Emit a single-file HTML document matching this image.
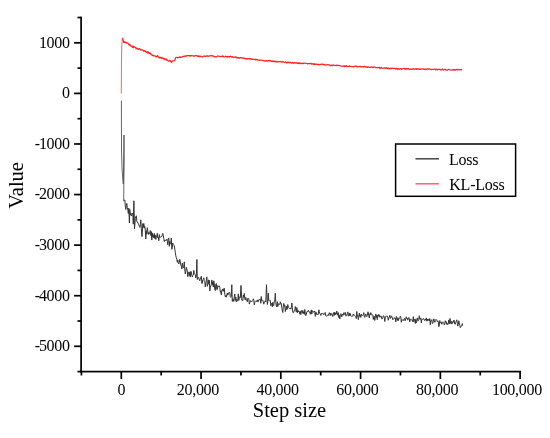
<!DOCTYPE html>
<html><head><meta charset="utf-8"><title>Loss chart</title>
<style>
html,body{margin:0;padding:0;background:#fff;width:550px;height:438px;overflow:hidden}
svg{display:block}
text{font-family:"Liberation Serif","Times New Roman",serif;fill:#000}
.tk{font-size:16px;letter-spacing:-0.3px}
.ax{font-size:20.5px}
.lg{font-size:16px;letter-spacing:-0.25px}
</style></head><body>
<svg width="550" height="438" viewBox="0 0 550 438">
<rect width="550" height="438" fill="#fff"/>
<path d="M121.40,100.50 L121.50,150.00 L122.00,168.00 L122.70,178.00 L123.30,184.00 L124.00,135.00 L124.20,160.00 L123.80,186.00 L123.70,201.00" fill="none" stroke="#555" stroke-width="0.9" stroke-linejoin="round"/>
<path d="M123.70,201.00 L124.80,199.93 L125.30,206.24 L125.80,209.51 L126.30,205.60 L126.80,203.38 L127.30,207.56 L127.80,209.83 L128.30,213.50 L128.80,208.14 L129.40,223.00 L129.80,209.45 L130.30,214.89 L130.80,213.46 L131.30,216.01 L131.80,214.90 L132.30,213.01 L132.80,213.93 L133.30,224.14 L133.90,200.80 L134.50,228.80 L134.50,228.80 L135.30,218.67 L135.80,216.83 L136.30,215.77 L136.80,220.96 L137.30,222.50 L137.80,222.38 L138.30,223.81 L138.80,224.84 L139.30,226.13 L139.80,227.38 L140.30,224.87 L140.80,219.82 L141.30,228.61 L142.00,236.70 L142.00,236.70 L142.80,223.63 L143.30,227.47 L143.80,223.46 L144.30,228.14 L144.80,226.41 L145.30,230.14 L145.80,238.95 L146.30,230.68 L146.80,234.09 L147.30,227.72 L147.80,231.21 L148.30,234.43 L148.80,232.41 L149.30,234.13 L149.80,233.60 L150.30,230.48 L150.80,235.62 L151.30,231.61 L151.80,240.06 L152.30,232.93 L152.80,236.79 L153.30,234.87 L153.80,237.98 L154.30,233.38 L154.80,238.50 L155.30,235.13 L155.80,239.43 L156.30,237.49 L156.80,236.03 L157.30,233.22 L157.80,238.02 L158.30,237.12 L158.80,240.76 L159.30,234.57 L159.80,237.47 L160.30,237.35 L160.80,236.76 L161.30,236.67 L161.80,236.73 L162.30,234.47 L162.80,233.33 L163.30,235.38 L163.80,238.56 L164.30,241.54 L164.80,240.08 L165.30,240.68 L165.80,240.20 L166.30,240.32 L166.80,239.10 L167.30,241.28 L167.80,244.73 L168.30,238.63 L168.80,237.86 L169.30,246.34 L169.80,241.36 L170.30,243.91 L170.80,243.91 L171.30,238.03 L171.80,249.32 L172.30,247.60 L172.80,242.98 L173.30,244.78 L173.80,245.45 L174.30,245.74 L174.80,249.24 L175.30,252.33 L175.80,255.78 L176.30,257.62 L176.80,259.12 L177.30,262.30 L177.80,260.00 L178.30,262.84 L178.80,263.96 L179.30,262.37 L179.80,259.41 L180.30,261.89 L180.80,264.99 L181.30,266.06 L181.80,268.86 L182.30,263.16 L182.80,266.00 L183.30,268.04 L183.80,266.62 L184.30,261.86 L184.80,269.92 L185.30,274.00 L185.80,271.39 L186.30,267.32 L186.80,268.98 L187.30,270.88 L187.80,276.68 L188.30,272.62 L188.80,271.82 L189.30,275.65 L189.80,272.15 L190.30,277.08 L190.80,271.27 L191.30,272.02 L191.80,275.12 L192.30,277.04 L192.80,275.46 L193.30,274.98 L193.80,270.36 L194.30,273.44 L194.80,274.12 L195.30,274.74 L195.80,277.85 L196.30,276.09 L196.90,259.50 L197.30,279.51 L197.80,278.06 L198.30,277.29 L198.80,278.59 L199.30,279.56 L199.80,280.80 L200.30,277.85 L200.80,278.66 L201.30,276.19 L201.80,283.48 L202.30,283.34 L202.80,279.68 L203.30,279.26 L203.80,277.79 L204.30,281.46 L204.80,281.88 L205.30,286.91 L205.80,282.63 L206.30,280.53 L206.80,276.89 L207.30,286.39 L207.80,283.82 L208.30,279.79 L208.80,284.25 L209.30,280.19 L209.80,291.02 L210.30,287.08 L210.80,285.98 L211.30,284.40 L211.80,279.93 L212.30,284.92 L212.80,281.72 L213.30,287.07 L213.80,280.81 L214.30,283.99 L214.80,289.30 L215.30,290.56 L215.80,284.09 L216.30,283.50 L216.80,289.49 L217.30,289.68 L217.80,285.55 L218.30,286.50 L218.80,286.75 L219.30,285.82 L219.80,287.28 L220.30,292.22 L220.80,291.28 L221.30,294.93 L221.80,290.23 L222.30,290.52 L222.80,288.90 L223.30,291.35 L223.80,288.91 L224.30,288.21 L224.80,294.50 L225.30,296.67 L225.80,295.63 L226.30,297.17 L226.80,294.94 L227.30,292.96 L227.80,295.21 L228.30,294.45 L228.80,293.03 L229.30,291.99 L229.80,292.82 L230.30,296.67 L230.80,297.38 L231.30,296.23 L231.80,284.70 L232.30,301.43 L232.80,298.79 L233.30,299.91 L233.80,301.45 L234.30,296.63 L234.80,293.92 L235.30,300.43 L235.80,297.03 L236.30,301.82 L236.80,299.53 L237.30,301.15 L237.80,300.61 L238.30,293.83 L238.80,300.48 L239.30,297.14 L239.80,296.92 L240.30,297.78 L241.00,285.40 L241.00,285.40 L241.80,300.24 L242.30,300.46 L242.80,300.71 L243.30,295.07 L243.80,297.30 L244.30,293.53 L244.80,298.37 L245.30,300.07 L245.80,297.43 L246.30,299.76 L246.80,299.96 L247.30,301.81 L247.80,298.19 L248.30,298.36 L248.80,298.66 L249.30,304.11 L249.80,302.89 L250.30,300.51 L250.80,301.41 L251.30,301.34 L251.80,301.69 L252.30,301.00 L252.80,300.78 L253.30,298.81 L253.80,300.07 L254.30,304.85 L254.80,302.48 L255.30,301.45 L255.80,300.83 L256.30,301.38 L256.80,301.96 L257.30,299.86 L257.80,301.66 L258.30,301.78 L258.80,299.74 L259.30,299.69 L259.80,299.28 L260.30,299.18 L260.80,303.31 L261.30,296.52 L261.80,300.95 L262.30,300.31 L262.80,300.37 L263.30,301.95 L263.80,304.19 L264.30,302.05 L264.80,301.68 L265.30,300.79 L265.80,301.94 L266.50,284.70 L266.50,284.70 L267.30,304.51 L267.80,301.90 L268.30,293.20 L268.80,300.58 L269.30,300.46 L269.80,300.92 L270.30,300.45 L270.80,305.81 L271.30,304.30 L271.80,303.12 L272.30,306.74 L272.80,302.35 L273.30,305.38 L273.80,305.53 L274.30,300.66 L274.80,300.70 L275.30,293.20 L275.80,302.14 L276.30,306.05 L276.80,306.93 L277.30,301.69 L277.80,306.60 L278.30,303.83 L278.80,304.04 L279.30,303.95 L279.80,304.66 L280.30,301.76 L280.80,303.71 L281.30,303.46 L281.80,307.32 L282.30,310.91 L282.80,312.50 L283.30,306.29 L283.80,303.49 L284.30,306.36 L284.80,305.35 L285.30,311.60 L285.80,308.74 L286.30,306.12 L286.80,309.73 L287.30,308.99 L287.80,304.57 L288.30,306.99 L288.80,307.73 L289.30,308.41 L289.80,308.78 L290.30,307.92 L290.80,309.16 L291.30,307.66 L291.90,303.00 L292.30,307.28 L292.80,312.47 L293.60,312.60 L293.60,312.60 L294.30,310.42 L294.80,310.70 L295.30,306.55 L295.80,309.67 L296.30,311.86 L296.80,307.54 L297.30,312.76 L297.80,309.88 L298.30,311.80 L298.80,310.92 L299.30,311.91 L299.80,314.23 L300.30,311.16 L300.80,314.54 L301.30,310.67 L301.80,310.49 L302.30,313.32 L302.80,310.40 L303.30,311.64 L303.80,313.86 L304.30,314.44 L304.80,309.49 L305.30,313.33 L305.80,315.62 L306.30,314.43 L306.80,311.99 L307.30,311.35 L307.80,311.83 L308.30,310.37 L308.80,311.83 L309.30,311.93 L309.80,311.97 L310.30,314.22 L310.80,311.89 L311.30,309.88 L311.80,314.15 L312.30,310.63 L312.80,311.73 L313.30,312.31 L313.80,312.00 L314.30,310.94 L314.80,312.26 L315.30,316.40 L315.80,311.76 L316.30,312.60 L316.80,314.77 L317.30,314.18 L317.80,314.26 L318.30,314.48 L318.80,309.77 L319.30,311.68 L319.80,313.40 L320.30,314.09 L320.80,315.50 L321.30,314.20 L321.80,313.09 L322.30,313.63 L322.80,313.29 L323.30,314.14 L323.80,314.94 L324.30,313.32 L324.80,312.60 L325.30,312.59 L325.80,315.92 L326.30,316.28 L326.80,315.85 L327.30,315.67 L327.80,315.68 L328.30,314.33 L328.80,315.50 L329.30,312.66 L329.80,314.14 L330.30,313.24 L330.80,315.64 L331.30,313.40 L331.80,314.14 L332.30,314.94 L332.80,316.50 L333.30,312.84 L333.80,312.54 L334.30,315.44 L334.80,312.16 L335.30,314.77 L335.80,313.07 L336.30,313.86 L336.80,310.99 L337.30,315.27 L337.80,313.24 L338.30,312.59 L338.80,317.60 L339.30,315.32 L339.80,318.94 L340.30,314.84 L340.80,313.59 L341.30,314.37 L341.80,316.90 L342.30,314.17 L342.80,314.99 L343.30,315.12 L343.80,312.74 L344.30,314.50 L344.80,313.45 L345.30,312.31 L345.80,316.04 L346.30,315.86 L346.80,315.04 L347.30,313.56 L347.80,311.88 L348.30,316.24 L348.80,315.43 L349.30,312.93 L349.80,315.83 L350.30,313.44 L350.80,315.94 L351.30,316.21 L351.80,316.56 L352.30,316.32 L352.80,316.23 L353.30,314.02 L353.80,315.28 L354.30,315.06 L354.80,315.51 L355.30,316.35 L355.80,316.92 L356.30,318.62 L356.80,311.55 L357.30,316.53 L357.80,315.51 L358.30,319.66 L358.80,317.39 L359.30,313.04 L359.80,316.48 L360.30,314.92 L360.80,317.45 L361.30,314.00 L361.80,315.59 L362.30,315.53 L362.80,315.58 L363.30,314.75 L363.80,312.64 L364.30,316.49 L364.80,317.38 L365.30,315.58 L365.80,313.98 L366.30,316.02 L366.80,316.61 L367.30,315.36 L368.00,311.80 L368.00,311.80 L368.80,315.60 L369.30,317.98 L369.80,313.72 L370.30,314.73 L370.80,312.59 L371.30,314.74 L371.80,314.79 L372.30,314.54 L372.80,315.11 L373.30,319.41 L373.80,316.18 L374.30,316.44 L374.80,320.44 L375.30,316.72 L375.80,313.94 L376.30,317.57 L376.80,315.35 L377.30,319.71 L377.80,314.90 L378.30,316.06 L378.80,314.37 L379.30,317.26 L379.80,315.43 L380.30,317.06 L380.80,316.57 L381.30,316.21 L381.80,318.86 L382.30,318.88 L382.80,317.45 L383.30,315.87 L383.80,315.62 L384.30,317.90 L384.80,321.50 L385.30,316.76 L385.80,316.26 L386.30,316.46 L386.80,315.84 L387.30,316.10 L387.80,317.44 L388.30,320.24 L388.80,317.88 L389.30,317.07 L389.80,315.27 L390.30,318.37 L390.80,317.99 L391.30,315.99 L391.80,316.25 L392.30,318.02 L392.80,319.81 L393.30,319.18 L393.80,318.50 L394.30,317.63 L394.80,318.73 L395.30,318.19 L395.80,321.88 L396.30,316.35 L396.80,317.65 L397.30,320.42 L397.80,317.87 L398.30,320.73 L398.80,318.28 L399.30,318.62 L399.80,317.77 L400.30,316.12 L400.80,316.87 L401.30,322.28 L401.80,319.70 L402.30,319.69 L402.80,320.34 L403.30,319.75 L403.80,320.57 L404.30,318.47 L404.80,318.60 L405.30,320.67 L405.80,318.45 L406.30,316.83 L406.80,318.71 L407.30,318.20 L407.80,320.17 L408.30,317.96 L408.80,317.41 L409.30,318.66 L409.80,321.85 L410.30,319.18 L410.80,319.56 L411.30,319.33 L411.80,319.84 L412.30,320.92 L412.80,321.73 L413.30,316.65 L413.80,321.73 L414.30,319.46 L414.80,318.95 L415.30,323.54 L415.80,319.25 L416.30,322.82 L416.80,321.20 L417.30,317.86 L417.80,320.43 L418.30,320.87 L418.80,319.44 L419.30,315.76 L419.80,319.11 L420.30,319.41 L420.80,317.91 L421.30,322.88 L421.80,319.45 L422.30,319.25 L422.80,319.45 L423.30,318.68 L423.80,318.74 L424.30,320.24 L424.80,320.66 L425.30,319.32 L425.80,320.07 L426.30,317.93 L426.80,321.19 L427.30,319.10 L427.80,320.76 L428.30,318.92 L428.80,319.63 L429.30,320.90 L429.80,318.55 L430.30,324.79 L430.80,320.65 L431.30,320.66 L431.80,319.62 L432.30,323.60 L432.80,323.32 L433.30,321.57 L433.80,318.83 L434.30,320.35 L434.80,322.31 L435.30,320.50 L435.80,319.47 L436.30,319.56 L436.80,320.36 L437.30,321.78 L437.80,320.77 L438.30,321.99 L438.80,326.75 L439.30,325.14 L439.80,320.52 L440.30,322.92 L440.80,322.56 L441.30,322.25 L441.80,324.30 L442.30,322.06 L442.80,322.15 L443.30,322.13 L443.80,322.66 L444.30,325.06 L444.80,324.28 L445.30,320.76 L445.80,322.29 L446.30,321.71 L446.80,324.44 L447.30,323.47 L447.80,324.61 L448.30,323.03 L448.80,319.95 L449.30,323.93 L450.00,318.50 L450.00,318.50 L450.80,323.63 L451.30,324.13 L451.80,321.12 L452.30,323.47 L452.80,322.21 L453.30,322.24 L454.00,320.00 L454.00,320.00 L454.80,324.08 L455.30,324.17 L455.80,322.21 L456.30,320.96 L456.80,319.81 L457.30,323.13 L457.80,326.11 L458.30,324.27 L458.80,320.71 L459.30,323.17 L459.80,325.46 L460.30,327.68 L460.80,326.95 L461.30,325.72 L461.80,325.55 L462.30,323.55 L462.60,325.60" fill="none" stroke="#333" stroke-width="1.0" stroke-linejoin="round"/>
<path d="M121.30,93.50 L121.50,60.00 L121.80,45.00 L122.40,38.00" fill="none" stroke="#f06a6a" stroke-width="1.0" stroke-linejoin="round"/>
<path d="M122.40,38.00 L122.60,37.98 L123.10,39.73 L123.60,42.31 L124.10,41.47 L124.60,42.50 L125.10,42.40 L125.60,42.04 L126.10,43.05 L126.60,42.41 L127.10,43.34 L127.60,42.97 L128.10,43.30 L128.60,44.18 L129.10,45.20 L129.60,44.22 L130.10,44.68 L130.60,45.70 L131.10,46.56 L131.60,46.15 L132.10,46.09 L132.60,47.40 L133.10,45.99 L133.60,47.71 L134.10,46.95 L134.60,46.95 L135.10,47.15 L135.60,47.71 L136.10,48.84 L136.60,47.91 L137.10,48.85 L137.60,49.16 L138.10,48.90 L138.60,49.40 L139.10,48.62 L139.60,48.71 L140.10,49.07 L140.60,50.01 L141.10,49.65 L141.60,49.54 L142.10,50.12 L142.60,50.04 L143.10,49.98 L143.60,51.08 L144.10,51.12 L144.60,50.52 L145.10,51.33 L145.60,51.45 L146.10,52.29 L146.60,52.24 L147.10,51.66 L147.60,53.12 L148.10,51.84 L148.60,52.66 L149.10,53.55 L149.60,52.74 L150.10,53.63 L150.60,53.11 L151.10,54.52 L151.60,54.97 L152.10,54.91 L152.60,55.74 L153.10,55.01 L153.60,55.84 L154.10,55.78 L154.60,55.87 L155.10,55.76 L155.60,56.57 L156.10,56.87 L156.60,56.14 L157.10,56.60 L157.60,55.65 L158.10,57.02 L158.60,57.14 L159.10,57.99 L159.60,57.90 L160.10,57.15 L160.60,57.55 L161.10,58.27 L161.60,57.33 L162.10,58.34 L162.60,58.03 L163.10,58.14 L163.60,58.16 L164.10,59.57 L164.60,58.56 L165.10,58.90 L165.60,59.29 L166.10,60.29 L166.60,59.00 L167.10,59.79 L167.60,60.10 L168.10,60.84 L168.60,60.90 L169.10,61.19 L169.60,60.35 L170.10,60.81 L170.60,60.91 L171.10,62.07 L171.60,62.41 L172.10,61.17 L172.60,60.94 L173.10,60.95 L173.60,60.67 L174.10,60.67 L174.60,60.51 L175.10,59.30 L175.60,57.79 L176.10,57.50 L176.60,57.41 L177.10,57.56 L177.60,57.90 L178.10,57.59 L178.60,57.37 L179.10,57.43 L179.60,57.41 L180.10,56.71 L180.60,57.47 L181.10,57.27 L181.60,57.28 L182.10,57.13 L182.60,56.64 L183.10,56.56 L183.60,56.19 L184.10,56.66 L184.60,56.02 L185.10,55.96 L185.60,56.04 L186.10,55.93 L186.60,56.05 L187.10,55.69 L187.60,55.58 L188.10,55.67 L188.60,55.55 L189.10,55.76 L189.60,55.43 L190.10,56.27 L190.60,56.01 L191.10,55.55 L191.60,55.65 L192.10,55.75 L192.60,55.76 L193.10,55.52 L193.60,56.25 L194.10,56.39 L194.60,55.87 L195.10,55.88 L195.60,55.50 L196.10,55.58 L196.60,55.88 L197.10,55.87 L197.60,56.50 L198.10,55.89 L198.60,55.82 L199.10,56.81 L199.60,56.45 L200.10,56.13 L200.60,56.59 L201.10,56.12 L201.60,56.57 L202.10,56.98 L202.60,56.82 L203.10,56.61 L203.60,56.12 L204.10,56.18 L204.60,55.94 L205.10,56.50 L205.60,56.21 L206.10,56.42 L206.60,55.91 L207.10,55.73 L207.60,56.24 L208.10,56.33 L208.60,56.12 L209.10,56.00 L209.60,55.93 L210.10,55.92 L210.60,55.51 L211.10,55.90 L211.60,55.84 L212.10,55.62 L212.60,55.72 L213.10,56.07 L213.60,56.16 L214.10,56.69 L214.60,56.95 L215.10,56.43 L215.60,56.91 L216.10,56.95 L216.60,56.91 L217.10,56.31 L217.60,56.16 L218.10,56.15 L218.60,56.11 L219.10,56.11 L219.60,56.52 L220.10,56.77 L220.60,56.68 L221.10,56.29 L221.60,56.43 L222.10,56.55 L222.60,55.81 L223.10,56.35 L223.60,56.58 L224.10,56.92 L224.60,56.86 L225.10,56.56 L225.60,56.23 L226.10,56.81 L226.60,56.34 L227.10,56.83 L227.60,57.02 L228.10,56.47 L228.60,56.50 L229.10,57.06 L229.60,56.87 L230.10,56.33 L230.60,56.31 L231.10,56.38 L231.60,57.19 L232.10,57.16 L232.60,56.56 L233.10,57.31 L233.60,57.53 L234.10,57.27 L234.60,57.03 L235.10,57.29 L235.60,56.93 L236.10,56.88 L236.60,57.90 L237.10,57.65 L237.60,57.59 L238.10,58.06 L238.60,57.62 L239.10,58.12 L239.60,58.14 L240.10,57.59 L240.60,57.70 L241.10,57.80 L241.60,57.81 L242.10,58.22 L242.60,57.94 L243.10,58.15 L243.60,57.91 L244.10,58.74 L244.60,58.24 L245.10,58.39 L245.60,58.57 L246.10,58.94 L246.60,58.51 L247.10,59.05 L247.60,58.69 L248.10,58.77 L248.60,58.81 L249.10,58.36 L249.60,58.83 L250.10,58.62 L250.60,58.49 L251.10,59.34 L251.60,58.76 L252.10,59.11 L252.60,59.42 L253.10,59.30 L253.60,59.13 L254.10,59.39 L254.60,59.48 L255.10,59.77 L255.60,59.15 L256.10,59.67 L256.60,59.41 L257.10,59.50 L257.60,60.06 L258.10,59.85 L258.60,59.97 L259.10,60.22 L259.60,60.44 L260.10,60.03 L260.60,60.25 L261.10,60.21 L261.60,60.27 L262.10,60.51 L262.60,60.33 L263.10,60.47 L263.60,60.48 L264.10,60.98 L264.60,60.78 L265.10,61.00 L265.60,61.11 L266.10,60.47 L266.60,60.81 L267.10,61.23 L267.60,61.17 L268.10,60.51 L268.60,60.53 L269.10,60.90 L269.60,60.57 L270.10,60.78 L270.60,60.65 L271.10,61.29 L271.60,61.44 L272.10,61.60 L272.60,60.90 L273.10,61.50 L273.60,61.49 L274.10,61.01 L274.60,61.79 L275.10,61.91 L275.60,61.20 L276.10,61.97 L276.60,61.45 L277.10,61.58 L277.60,62.12 L278.10,61.99 L278.60,61.36 L279.10,61.67 L279.60,61.79 L280.10,61.65 L280.60,61.55 L281.10,61.71 L281.60,62.15 L282.10,61.49 L282.60,62.07 L283.10,62.00 L283.60,61.62 L284.10,61.97 L284.60,62.30 L285.10,62.23 L285.60,61.83 L286.10,62.79 L286.60,62.63 L287.10,62.86 L287.60,62.03 L288.10,62.23 L288.60,62.05 L289.10,62.83 L289.60,62.36 L290.10,62.26 L290.60,62.60 L291.10,63.12 L291.60,63.06 L292.10,62.54 L292.60,62.46 L293.10,63.26 L293.60,62.94 L294.10,63.11 L294.60,62.53 L295.10,62.53 L295.60,63.19 L296.10,62.96 L296.60,62.64 L297.10,63.54 L297.60,63.26 L298.10,63.46 L298.60,62.78 L299.10,63.58 L299.60,62.83 L300.10,63.65 L300.60,63.28 L301.10,63.19 L301.60,63.44 L302.10,63.84 L302.60,63.21 L303.10,63.10 L303.60,63.53 L304.10,63.27 L304.60,63.16 L305.10,63.24 L305.60,63.16 L306.10,63.34 L306.60,63.48 L307.10,63.50 L307.60,63.98 L308.10,63.54 L308.60,63.77 L309.10,63.48 L309.60,63.68 L310.10,63.38 L310.60,63.63 L311.10,63.43 L311.60,64.17 L312.10,64.02 L312.60,63.68 L313.10,64.00 L313.60,64.48 L314.10,63.68 L314.60,64.42 L315.10,64.06 L315.60,64.15 L316.10,64.52 L316.60,64.11 L317.10,64.25 L317.60,64.46 L318.10,64.78 L318.60,64.17 L319.10,64.68 L319.60,64.59 L320.10,64.54 L320.60,64.34 L321.10,64.31 L321.60,64.04 L322.10,64.15 L322.60,64.12 L323.10,64.81 L323.60,64.36 L324.10,64.30 L324.60,64.27 L325.10,65.07 L325.60,65.14 L326.10,64.98 L326.60,64.63 L327.10,64.63 L327.60,64.72 L328.10,64.93 L328.60,64.67 L329.10,65.00 L329.60,64.86 L330.10,65.60 L330.60,65.65 L331.10,65.27 L331.60,65.00 L332.10,65.77 L332.60,65.15 L333.10,65.24 L333.60,64.93 L334.10,65.35 L334.60,65.48 L335.10,65.55 L335.60,65.28 L336.10,65.62 L336.60,65.16 L337.10,65.45 L337.60,65.32 L338.10,65.66 L338.60,65.34 L339.10,65.36 L339.60,65.68 L340.10,65.64 L340.60,66.01 L341.10,65.98 L341.60,66.22 L342.10,66.15 L342.60,66.24 L343.10,66.42 L343.60,65.95 L344.10,65.91 L344.60,66.60 L345.10,65.78 L345.60,66.38 L346.10,66.32 L346.60,65.75 L347.10,66.56 L347.60,66.64 L348.10,66.40 L348.60,66.53 L349.10,66.63 L349.60,65.98 L350.10,66.39 L350.60,66.39 L351.10,66.74 L351.60,66.72 L352.10,66.76 L352.60,66.53 L353.10,66.85 L353.60,66.66 L354.10,66.68 L354.60,66.23 L355.10,66.05 L355.60,66.16 L356.10,66.40 L356.60,66.16 L357.10,66.91 L357.60,66.64 L358.10,66.73 L358.60,66.74 L359.10,66.81 L359.60,66.63 L360.10,66.16 L360.60,66.96 L361.10,66.93 L361.60,66.70 L362.10,66.75 L362.60,66.90 L363.10,66.34 L363.60,67.04 L364.10,66.58 L364.60,66.43 L365.10,66.65 L365.60,67.14 L366.10,66.64 L366.60,67.20 L367.10,67.47 L367.60,67.01 L368.10,66.93 L368.60,67.05 L369.10,67.29 L369.60,67.40 L370.10,67.27 L370.60,67.33 L371.10,66.79 L371.60,66.89 L372.10,67.02 L372.60,67.54 L373.10,67.13 L373.60,67.43 L374.10,66.90 L374.60,66.98 L375.10,67.22 L375.60,67.66 L376.10,67.71 L376.60,67.73 L377.10,67.37 L377.60,67.63 L378.10,67.61 L378.60,67.65 L379.10,67.33 L379.60,68.14 L380.10,67.47 L380.60,68.29 L381.10,68.28 L381.60,67.39 L382.10,67.86 L382.60,68.26 L383.10,68.44 L383.60,67.95 L384.10,67.80 L384.60,67.77 L385.10,68.54 L385.60,67.84 L386.10,68.24 L386.60,67.83 L387.10,68.25 L387.60,68.71 L388.10,67.92 L388.60,68.64 L389.10,68.36 L389.60,68.77 L390.10,68.62 L390.60,68.18 L391.10,68.88 L391.60,68.50 L392.10,68.07 L392.60,68.08 L393.10,68.60 L393.60,68.59 L394.10,68.48 L394.60,68.34 L395.10,68.55 L395.60,68.53 L396.10,69.07 L396.60,68.24 L397.10,68.99 L397.60,69.09 L398.10,68.38 L398.60,69.19 L399.10,68.99 L399.60,69.19 L400.10,68.58 L400.60,68.67 L401.10,68.70 L401.60,69.32 L402.10,68.91 L402.60,68.69 L403.10,68.77 L403.60,68.63 L404.10,68.41 L404.60,68.47 L405.10,69.21 L405.60,68.67 L406.10,69.33 L406.60,68.65 L407.10,68.67 L407.60,68.93 L408.10,68.61 L408.60,68.81 L409.10,69.40 L409.60,69.33 L410.10,69.27 L410.60,69.10 L411.10,69.39 L411.60,69.42 L412.10,69.04 L412.60,69.22 L413.10,68.56 L413.60,69.25 L414.10,68.97 L414.60,69.28 L415.10,69.18 L415.60,68.83 L416.10,68.60 L416.60,69.49 L417.10,68.70 L417.60,69.05 L418.10,68.93 L418.60,68.89 L419.10,69.34 L419.60,69.58 L420.10,68.88 L420.60,69.28 L421.10,68.93 L421.60,69.20 L422.10,69.04 L422.60,68.82 L423.10,68.82 L423.60,68.88 L424.10,69.58 L424.60,69.18 L425.10,68.91 L425.60,69.61 L426.10,69.71 L426.60,69.18 L427.10,68.88 L427.60,68.94 L428.10,68.85 L428.60,69.12 L429.10,68.88 L429.60,69.04 L430.10,69.07 L430.60,69.39 L431.10,69.72 L431.60,69.59 L432.10,69.27 L432.60,69.28 L433.10,69.40 L433.60,69.27 L434.10,69.24 L434.60,68.98 L435.10,69.20 L435.60,69.91 L436.10,69.08 L436.60,69.47 L437.10,69.60 L437.60,69.85 L438.10,69.21 L438.60,69.28 L439.10,69.27 L439.60,69.43 L440.10,69.49 L440.60,70.01 L441.10,69.92 L441.60,69.95 L442.10,69.11 L442.60,69.14 L443.10,69.83 L443.60,70.02 L444.10,69.61 L444.60,69.74 L445.10,69.16 L445.60,69.57 L446.10,70.11 L446.60,70.02 L447.10,70.07 L447.60,70.19 L448.10,69.48 L448.60,69.35 L449.10,69.41 L449.60,69.79 L450.10,69.96 L450.60,70.23 L451.10,70.02 L451.60,69.95 L452.10,70.06 L452.60,69.76 L453.10,69.85 L453.60,69.34 L454.10,70.08 L454.60,69.53 L455.10,70.22 L455.60,69.95 L456.10,69.60 L456.60,69.43 L457.10,69.55 L457.60,69.94 L458.10,70.00 L458.60,69.41 L459.10,69.37 L459.60,69.82 L460.10,69.88 L460.60,69.69 L461.10,69.52 L461.60,69.90 L462.10,69.31" fill="none" stroke="#f22" stroke-width="1.2" stroke-linejoin="round"/>
<rect x="80.25" y="16.68" width="1.7" height="355.77" fill="#000"/>
<rect x="80.25" y="370.75" width="440.70" height="1.7" fill="#000"/>
<rect x="77.50" y="16.68" width="3.60" height="1.7" fill="#000"/>
<rect x="74.10" y="41.97" width="7.00" height="1.7" fill="#000"/>
<rect x="77.50" y="67.26" width="3.60" height="1.7" fill="#000"/>
<rect x="74.10" y="92.55" width="7.00" height="1.7" fill="#000"/>
<rect x="77.50" y="117.84" width="3.60" height="1.7" fill="#000"/>
<rect x="74.10" y="143.13" width="7.00" height="1.7" fill="#000"/>
<rect x="77.50" y="168.42" width="3.60" height="1.7" fill="#000"/>
<rect x="74.10" y="193.71" width="7.00" height="1.7" fill="#000"/>
<rect x="77.50" y="219.00" width="3.60" height="1.7" fill="#000"/>
<rect x="74.10" y="244.29" width="7.00" height="1.7" fill="#000"/>
<rect x="77.50" y="269.58" width="3.60" height="1.7" fill="#000"/>
<rect x="74.10" y="294.87" width="7.00" height="1.7" fill="#000"/>
<rect x="77.50" y="320.16" width="3.60" height="1.7" fill="#000"/>
<rect x="74.10" y="345.45" width="7.00" height="1.7" fill="#000"/>
<rect x="77.50" y="370.74" width="3.60" height="1.7" fill="#000"/>
<rect x="80.57" y="371.60" width="1.7" height="3.85" fill="#000"/>
<rect x="120.45" y="371.60" width="1.7" height="7.45" fill="#000"/>
<rect x="160.33" y="371.60" width="1.7" height="3.85" fill="#000"/>
<rect x="200.21" y="371.60" width="1.7" height="7.45" fill="#000"/>
<rect x="240.09" y="371.60" width="1.7" height="3.85" fill="#000"/>
<rect x="279.97" y="371.60" width="1.7" height="7.45" fill="#000"/>
<rect x="319.85" y="371.60" width="1.7" height="3.85" fill="#000"/>
<rect x="359.73" y="371.60" width="1.7" height="7.45" fill="#000"/>
<rect x="399.61" y="371.60" width="1.7" height="3.85" fill="#000"/>
<rect x="439.49" y="371.60" width="1.7" height="7.45" fill="#000"/>
<rect x="479.37" y="371.60" width="1.7" height="3.85" fill="#000"/>
<rect x="519.25" y="371.60" width="1.7" height="7.45" fill="#000"/>
<rect x="395.6" y="144" width="120" height="52.3" fill="#fff" stroke="#000" stroke-width="1.5"/>
<line x1="415.5" y1="158.8" x2="439" y2="158.8" stroke="#444" stroke-width="1.5"/>
<line x1="415.5" y1="183.8" x2="439" y2="183.8" stroke="#ff5560" stroke-width="1.4"/>
<text x="449" y="164.7" class="lg">Loss</text>
<text x="449.3" y="189.5" class="lg">KL-Loss</text>
<text x="69.7" y="47.6" text-anchor="end" class="tk">1000</text>
<text x="69.7" y="98.2" text-anchor="end" class="tk">0</text>
<text x="69.7" y="148.8" text-anchor="end" class="tk">-<tspan dx="-1">1000</tspan></text>
<text x="69.7" y="199.4" text-anchor="end" class="tk">-<tspan dx="-1">2000</tspan></text>
<text x="69.7" y="249.9" text-anchor="end" class="tk">-<tspan dx="-1">3000</tspan></text>
<text x="69.7" y="300.5" text-anchor="end" class="tk">-<tspan dx="-1">4000</tspan></text>
<text x="69.7" y="351.1" text-anchor="end" class="tk">-<tspan dx="-1">5000</tspan></text>
<text x="121.3" y="395" text-anchor="middle" class="tk">0</text>
<text x="197.9" y="395" text-anchor="middle" class="tk">20,000</text>
<text x="277.6" y="395" text-anchor="middle" class="tk">40,000</text>
<text x="357.4" y="395" text-anchor="middle" class="tk">60,000</text>
<text x="437.1" y="395" text-anchor="middle" class="tk">80,000</text>
<text x="516.9" y="395" text-anchor="middle" class="tk">100,000</text>
<text x="289.5" y="416.5" text-anchor="middle" class="ax">Step size</text>
<text transform="translate(23.2,185.4) rotate(-90)" text-anchor="middle" class="ax">Value</text>
</svg>
</body></html>
